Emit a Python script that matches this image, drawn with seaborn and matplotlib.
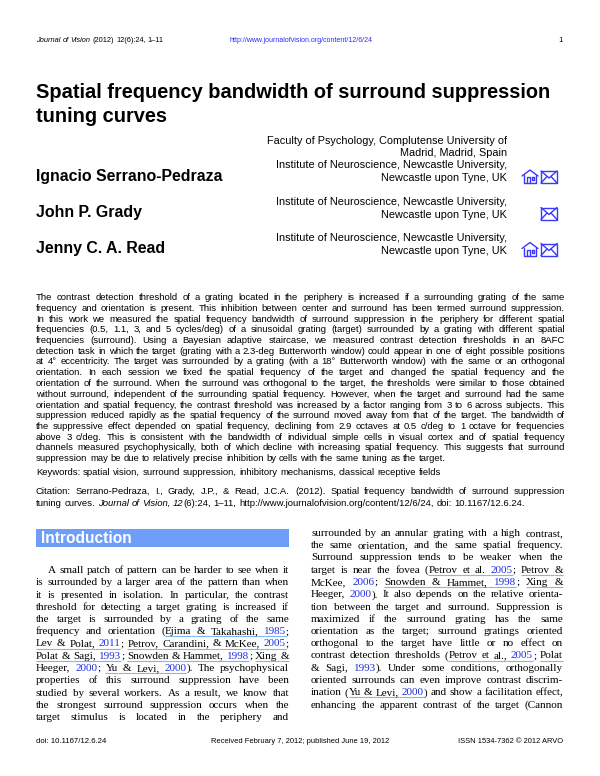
import matplotlib
matplotlib.use("Agg")
import matplotlib.pyplot as plt
from matplotlib import font_manager
import seaborn as sns

# --- TEXT CONTENT ---
# markup: <...> citation underline, {...} blue link text, *...* italic
HEADER_LEFT = "*Journal of Vision* (2012) 12(6):24, 1–11"
HEADER_URL = "http://www.journalofvision.org/content/12/6/24"
PAGE_NO = "1"

TITLE_LINES = ["Spatial frequency bandwidth of surround suppression",
               "tuning curves"]

AUTHORS = ["Ignacio Serrano-Pedraza", "John P. Grady", "Jenny C. A. Read"]
AFFILIATIONS = [
    ["Faculty of Psychology, Complutense University of",
     "Madrid, Madrid, Spain",
     "Institute of Neuroscience, Newcastle University,",
     "Newcastle upon Tyne, UK"],
    ["Institute of Neuroscience, Newcastle University,",
     "Newcastle upon Tyne, UK"],
    ["Institute of Neuroscience, Newcastle University,",
     "Newcastle upon Tyne, UK"],
]
ICONS = [["home", "mail"], ["mail"], ["home", "mail"]]

ABSTRACT = [
    "The contrast detection threshold of a grating located in the periphery is increased if a surrounding grating of the same",
    "frequency and orientation is present. This inhibition between center and surround has been termed surround suppression.",
    "In this work we measured the spatial frequency bandwidth of surround suppression in the periphery for different spatial",
    "frequencies (0.5, 1.1, 3, and 5 cycles/deg) of a sinusoidal grating (target) surrounded by a grating with different spatial",
    "frequencies (surround). Using a Bayesian adaptive staircase, we measured contrast detection thresholds in an 8AFC",
    "detection task in which the target (grating with a 2.3-deg Butterworth window) could appear in one of eight possible positions",
    "at 4° eccentricity. The target was surrounded by a grating (with a 18° Butterworth window) with the same or an orthogonal",
    "orientation. In each session we fixed the spatial frequency of the target and changed the spatial frequency and the",
    "orientation of the surround. When the surround was orthogonal to the target, the thresholds were similar to those obtained",
    "without surround, independent of the surrounding spatial frequency. However, when the target and surround had the same",
    "orientation and spatial frequency, the contrast threshold was increased by a factor ranging from 3 to 6 across subjects. This",
    "suppression reduced rapidly as the spatial frequency of the surround moved away from that of the target. The bandwidth of",
    "the suppressive effect depended on spatial frequency, declining from 2.9 octaves at 0.5 c/deg to 1 octave for frequencies",
    "above 3 c/deg. This is consistent with the bandwidth of individual simple cells in visual cortex and of spatial frequency",
    "channels measured psychophysically, both of which decline with increasing spatial frequency. This suggests that surround",
    "suppression may be due to relatively precise inhibition by cells with the same tuning as the target.",
]
KEYWORDS = "Keywords: spatial vision, surround suppression, inhibitory mechanisms, classical receptive fields"
CITATION = [
    "Citation: Serrano-Pedraza, I., Grady, J.P., & Read, J.C.A. (2012). Spatial frequency bandwidth of surround suppression",
    "tuning curves. *Journal of Vision, 12*(6):24, 1–11, http://www.journalofvision.org/content/12/6/24, doi: 10.1167/12.6.24.",
]

SECTION = "Introduction"
LEFT_COL = [
    "A small patch of pattern can be harder to see when it",
    "is surrounded by a larger area of the pattern than when",
    "it is presented in isolation. In particular, the contrast",
    "threshold for detecting a target grating is increased if",
    "the target is surrounded by a grating of the same",
    "frequency and orientation (<Ejima & Takahashi, {1985}>;",
    "<Lev & Polat, {2011}>; <Petrov, Carandini, & McKee, {2005}>;",
    "<Polat & Sagi, {1993}>; <Snowden & Hammet, {1998}>; <Xing &",
    "Heeger, {2000}>; <Yu & Levi, {2000}>). The psychophysical",
    "properties of this surround suppression have been",
    "studied by several workers. As a result, we know that",
    "the strongest surround suppression occurs when the",
    "target stimulus is located in the periphery and",
]
RIGHT_COL = [
    "surrounded by an annular grating with a high contrast,",
    "the same orientation, and the same spatial frequency.",
    "Surround suppression tends to be weaker when the",
    "target is near the fovea (<Petrov et al. {2005}>; <Petrov &",
    "McKee, {2006}>; <Snowden & Hammet, {1998}>; <Xing &",
    "Heeger, {2000}>). It also depends on the relative orienta-",
    "tion between the target and surround. Suppression is",
    "maximized if the surround grating has the same",
    "orientation as the target; surround gratings oriented",
    "orthogonal to the target have little or no effect on",
    "contrast detection thresholds (<Petrov et al., {2005}>; <Polat",
    "& Sagi, {1993}>). Under some conditions, orthogonally",
    "oriented surrounds can even improve contrast discrim-",
    "ination (<Yu & Levi, {2000}>) and show a facilitation effect,",
    "enhancing the apparent contrast of the target (Cannon",
]
FOOTER = ["doi: 10.1167/12.6.24",
          "Received February 7, 2012; published June 19, 2012",
          "ISSN 1534-7362 © 2012 ARVO"]

# --- STYLE ---
sns.set_theme(style="white")
SANS = ["Liberation Sans", "DejaVu Sans"]
SERIF = ["Liberation Serif", "DejaVu Serif"]
installed = {f.name for f in font_manager.fontManager.ttflist}
if "Liberation Sans Narrow" in installed:
    ABS_FONT = ["Liberation Sans Narrow", "Liberation Sans", "DejaVu Sans"]
elif "DejaVu Sans Condensed" in installed:
    ABS_FONT = ["DejaVu Sans Condensed", "DejaVu Sans"]
else:
    ABS_FONT = SANS
plt.rcParams['font.family'] = SANS
LINK = "#1f2fe0"
ULINE = "#7ab8f2"
ICON = "#3838ff"
BOX = "#6f9ef8"
INK = "black"

W, H = 600, 776
fig = plt.figure(figsize=(6, 7.76), dpi=100, facecolor="white")
ax = fig.add_axes([0, 0, 1, 1])
ax.set_xlim(0, W)
ax.set_ylim(H, 0)
ax.axis("off")
renderer = fig.canvas.get_renderer()


def measure(s, **kw):
    t = ax.text(0, 0, s, **kw)
    w = t.get_window_extent(renderer).width
    t.remove()
    return w


def plain(line):
    return "".join(c for c in line if c not in "<>{}*")


def fit_size(lines, width, family, cap, base=10.0):
    widest = max(measure(plain(l), fontsize=base, family=family) for l in lines)
    return min(cap, base * width / widest * 0.99)


def parse(line):
    words, runs, cur = [], [], ""
    st = {"ul": False, "blue": False, "it": False}

    def flush():
        nonlocal cur
        if cur:
            runs.append((cur, st["ul"], st["blue"], st["it"]))
            cur = ""
    for ch in line:
        if ch in "<>{}*":
            flush()
            if ch == "<":
                st["ul"] = True
            elif ch == ">":
                st["ul"] = False
            elif ch == "{":
                st["blue"] = True
            elif ch == "}":
                st["blue"] = False
            else:
                st["it"] = not st["it"]
        elif ch == " ":
            flush()
            if runs:
                words.append((runs, st["ul"]))
                runs = []
        else:
            cur += ch
    flush()
    if runs:
        words.append((runs, False))
    return words


def rich_line(line, x0, base, width, size, family, justify=True, color=INK):
    words = parse(line)
    kw = dict(fontsize=size, family=family)
    widths = []
    for runs, _ in words:
        widths.append([measure(r[0], fontstyle="italic" if r[3] else "normal", **kw)
                       for r in runs])
    total = sum(sum(w) for w in widths)
    space = measure("a a", **kw) - measure("aa", **kw)
    if justify and len(words) > 1:
        gap = max((width - total) / (len(words) - 1), 0.45 * space)
    else:
        gap = space
    x = x0
    for i, ((runs, gap_ul), ws) in enumerate(zip(words, widths)):
        for r, w in zip(runs, ws):
            ax.text(x, base, r[0], ha="left", va="baseline",
                    color=LINK if r[2] else color,
                    fontstyle="italic" if r[3] else "normal", **kw)
            if r[1]:
                ax.plot([x, x + w], [base + 2.2, base + 2.2], color=ULINE, lw=0.8,
                        solid_capstyle="butt")
            x += w
        if i < len(words) - 1:
            if gap_ul:
                ax.plot([x, x + gap], [base + 2.2, base + 2.2], color=ULINE, lw=0.8,
                        solid_capstyle="butt")
            x += gap


def draw_icon(kind, x, y):
    # x, y: top-left corner of a 16x13 px icon
    if kind == "home":
        ax.plot([x, x + 8, x + 16], [y + 6, y, y + 6], color=ICON, lw=1.0)
        ax.plot([x + 2, x + 2, x + 14, x + 14], [y + 5, y + 13, y + 13, y + 5],
                color=ICON, lw=1.0)
        ax.plot([x + 4.5, x + 4.5, x + 8, x + 8], [y + 13, y + 7, y + 7, y + 13],
                color=ICON, lw=1.0)
        ax.plot([x + 9.5, x + 12, x + 12, x + 9.5, x + 9.5],
                [y + 7, y + 7, y + 10, y + 10, y + 7], color=ICON, lw=1.0)
    else:
        ax.plot([x, x + 16, x + 16, x, x], [y + 1, y + 1, y + 13, y + 13, y + 1],
                color=ICON, lw=1.0)
        ax.plot([x, x + 8, x + 16], [y + 1, y + 8, y + 1], color=ICON, lw=1.0)
        ax.plot([x, x + 6], [y + 13, y + 6.5], color=ICON, lw=1.0)
        ax.plot([x + 16, x + 10], [y + 13, y + 6.5], color=ICON, lw=1.0)


# --- HEADER ---
rich_line(HEADER_LEFT, 36, 42, 0, 5.3, SANS, justify=False)
ax.text(230, 42, HEADER_URL, fontsize=5.0, color="#2a2aff", va="baseline")
ax.text(563, 42, PAGE_NO, fontsize=5.6, ha="right", va="baseline", color="black")

# --- TITLE ---
for i, t in enumerate(TITLE_LINES):
    ax.text(36, 98 + 23.5 * i, t, fontsize=14.4, fontweight="bold", va="baseline",
            color="black")

# --- AUTHORS & AFFILIATIONS ---
name_base = [180.5, 216.5, 252.5]
affil_base = [[143.5, 156, 168.5, 181], [205, 217.5], [241, 253.5]]
for name, nb, affs, ab, icons in zip(AUTHORS, name_base, AFFILIATIONS, affil_base, ICONS):
    ax.text(36, nb, name, fontsize=11.4, fontweight="bold", va="baseline", color="black")
    for a, b in zip(affs, ab):
        ax.text(507, b, a, fontsize=7.8, ha="right", va="baseline", color=INK)
    top = ab[-1] - 11
    if "home" in icons:
        draw_icon("home", 522, top)
    draw_icon("mail", 541, top)

# --- ABSTRACT ---
abs_size = fit_size(ABSTRACT[:-1], 529, ABS_FONT, cap=7.6)
for i, line in enumerate(ABSTRACT):
    rich_line(line, 36, 300 + 10.75 * i, 529, abs_size, ABS_FONT,
              justify=i < len(ABSTRACT) - 1)
rich_line(KEYWORDS, 36, 475, 529, abs_size, ABS_FONT, justify=False)
for i, line in enumerate(CITATION):
    rich_line(line, 36, 493.5 + 12 * i, 529, abs_size, ABS_FONT, justify=i == 0)

# --- INTRODUCTION ---
ax.add_patch(plt.Rectangle((36, 529), 253, 18, color=BOX, lw=0))
ax.text(41, 543, SECTION, fontsize=11.2, fontweight="bold", color="white", va="baseline")

body_size = 8.0
for i, line in enumerate(LEFT_COL):
    x0 = 48 if i == 0 else 36
    rich_line(line, x0, 573 + 12.25 * i, 289 - x0, body_size, SERIF)
for i, line in enumerate(RIGHT_COL):
    rich_line(line, 311, 536 + 12.25 * i, 252, body_size, SERIF)

# --- FOOTER ---
ax.text(36, 743, FOOTER[0], fontsize=5.6, va="baseline", color=INK)
ax.text(300, 743, FOOTER[1], fontsize=5.4, ha="center", va="baseline", color=INK)
ax.text(563, 743, FOOTER[2], fontsize=5.4, ha="right", va="baseline", color=INK)

fig.savefig("out.png", dpi=100, facecolor="white")
